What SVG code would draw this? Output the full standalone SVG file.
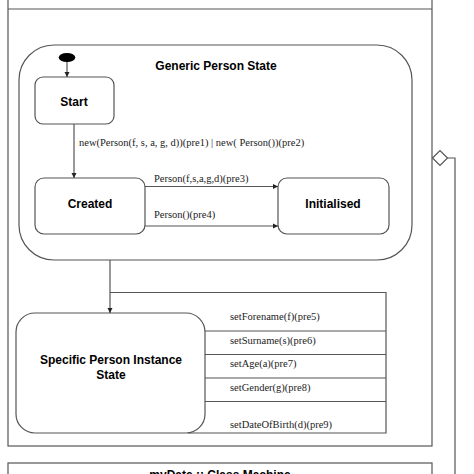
<svg xmlns="http://www.w3.org/2000/svg" width="474" height="474" viewBox="0 0 474 474">
<defs>
<style>
.ln{fill:none;stroke:#555;stroke-width:1.2}
.box{fill:#fff;stroke:#555;stroke-width:1.2}
.b{font-family:"Liberation Sans",Arial,sans-serif;font-weight:bold;font-size:12px;fill:#000;text-anchor:middle}
.t{font-family:"Liberation Serif","Times New Roman",serif;font-size:10.5px;fill:#222}
</style>
<marker id="ah" markerWidth="6" markerHeight="6" refX="5" refY="3" orient="auto" markerUnits="userSpaceOnUse">
<path d="M0,0.5 L5,3 L0,5.5 Z" fill="#222"/>
</marker>
</defs>
<rect width="474" height="474" fill="#fff"/>
<g id="frame">
<rect class="ln" x="8" y="-20" width="424" height="466"/>
<line class="ln" x1="8" y1="9" x2="432" y2="9"/>
</g>
<g id="generic-person-state">
<rect class="box" x="19" y="45" width="393" height="215" rx="35" ry="35"/>
<text class="b" x="216" y="70">Generic Person State</text>
</g>
<g id="initial">
<ellipse cx="67" cy="57.5" rx="8.3" ry="4.5" fill="#000"/>
</g>
<g id="start">
<rect class="box" x="35" y="77" width="79" height="47" rx="8"/>
<text class="b" x="74" y="106">Start</text>
</g>
<g id="created">
<rect class="box" x="35" y="178" width="110" height="56" rx="9"/>
<text class="b" x="90" y="208">Created</text>
</g>
<g id="initialised">
<rect class="box" x="278" y="178" width="111" height="56" rx="9"/>
<text class="b" x="333" y="208">Initialised</text>
</g>
<g id="specific-person-instance-state">
<rect class="box" x="16" y="313" width="189" height="120" rx="19"/>
<text class="b" x="111" y="364">Specific Person Instance</text>
<text class="b" x="111" y="379">State</text>
</g>
<g id="connectors">
<line class="ln" x1="67" y1="62" x2="67" y2="77" marker-end="url(#ah)"/>
<line class="ln" x1="74" y1="124" x2="74" y2="178" marker-end="url(#ah)"/>
<text class="t" x="79" y="146">new(Person(f, s, a, g, d))(pre1) | new( Person())(pre2)</text>
<line class="ln" x1="145" y1="186.5" x2="278" y2="186.5" marker-end="url(#ah)"/>
<text class="t" x="154" y="182">Person(f,s,a,g,d)(pre3)</text>
<line class="ln" x1="145" y1="226" x2="278" y2="226" marker-end="url(#ah)"/>
<text class="t" x="154" y="218">Person()(pre4)</text>
<path class="ln" d="M110,260 V313" marker-end="url(#ah)"/>
<path class="ln" d="M110,292.5 H386 V433 H188"/>
<line class="ln" x1="205" y1="331" x2="386" y2="331"/>
<line class="ln" x1="205" y1="354.5" x2="386" y2="354.5"/>
<line class="ln" x1="205" y1="378" x2="386" y2="378"/>
<line class="ln" x1="205" y1="401.5" x2="386" y2="401.5"/>
<text class="t" x="230" y="320">setForename(f)(pre5)</text>
<text class="t" x="230" y="344">setSurname(s)(pre6)</text>
<text class="t" x="230" y="367">setAge(a)(pre7)</text>
<text class="t" x="230" y="391">setGender(g)(pre8)</text>
<text class="t" x="230" y="428">setDateOfBirth(d)(pre9)</text>
<path class="ln" d="M432.5,158 L440,150.5 L447.5,158 L440,165.5 Z" fill="#fff"/>
<path class="ln" d="M447.5,158 H455 V480"/>
</g>
<g id="class-machine">
<rect class="box" x="8" y="463" width="424" height="30"/>
<text class="b" x="220" y="479">myDate :: Class Machine</text>
</g>
</svg>
